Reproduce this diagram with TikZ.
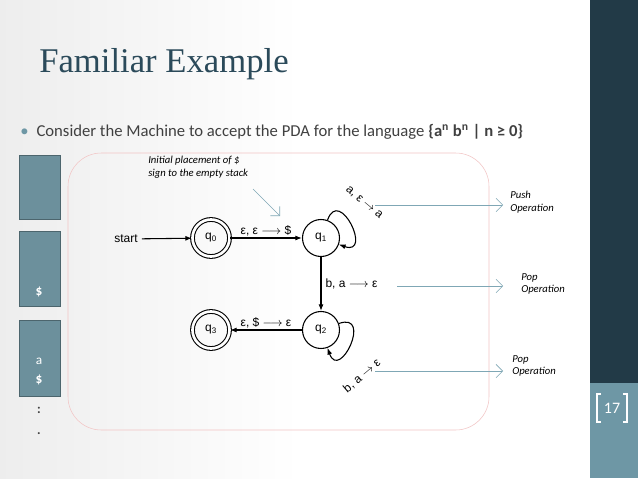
\documentclass[tikz,border=0pt]{standalone}
\usepackage{fontspec}
\setmainfont{Carlito}
\newfontfamily\titlefont{Liberation Serif}
\newfontfamily\statefont{Liberation Sans}
\usetikzlibrary{arrows.meta}
\definecolor{side}{HTML}{223A47}
\definecolor{sidelight}{HTML}{6E97A5}
\definecolor{stackc}{HTML}{6C909C}
\definecolor{titlec}{HTML}{2B4A5A}
\definecolor{textc}{HTML}{404040}
\definecolor{annc}{HTML}{7FA7B5}
\definecolor{boxc}{HTML}{F2C4C4}
\newcommand{\arr}{\ensuremath{\longrightarrow}}
\newcommand{\sarr}{\ensuremath{\rightarrow}}
\tikzset{
  st/.style={circle,draw,thick,minimum size=37pt*0.75,inner sep=0pt,font=\statefont\small},
  acc/.style={st,double,double distance=2pt},
  tr/.style={-{Latex[length=5pt]},thick},
  lab/.style={font=\statefont\small,inner sep=1pt},
  ann/.style={annc,-{Straight Barb[length=5pt]}},
  anntext/.style={font=\itshape\footnotesize,align=left,anchor=north west,inner sep=0pt},
  stk/.style={fill=stackc,draw=stackc!70!black},
}
\begin{document}
\begin{tikzpicture}[x=0.75pt,y=-0.75pt]
\useasboundingbox (0,0) rectangle (638,478);
\shade[left color=black!7,right color=white] (0,0) rectangle (300,478);
\fill[white] (300,0) rectangle (590,478);
\fill[side] (590,0) rectangle (638,383);
\fill[sidelight] (590,383) rectangle (638,478);
\node[white,font=\large] (pg) at (612,408) {17};
\draw[white,thick] (601,394) -- (597,394) -- (597,422) -- (601,422);
\draw[white,thick] (623,394) -- (627,394) -- (627,422) -- (623,422);
\node[titlec,font=\titlefont\fontsize{26}{31}\selectfont,anchor=base west,inner sep=0pt] (title) at (39,73) {Familiar Example};
\node[textc,anchor=base west,inner sep=0pt,font=\fontsize{12.5}{15}\selectfont] (bul) at (20,136)
  {{\color{sidelight}\textbullet}\hspace{6pt}Consider the Machine to accept the PDA for the language \textbf{\{a\textsuperscript{n} b\textsuperscript{n} | n ≥ 0\}}};
\draw[boxc] (68,153) [rounded corners=25pt] rectangle (489,430);
\draw[stk] (19,155) rectangle (60,219);
\draw[stk] (19,231) rectangle (60,306);
\draw[stk] (19,320) rectangle (60,396);
\node[white,font=\bfseries] (s1) at (39,292) {\$};
\node[white] (s2) at (39,361) {a};
\node[white,font=\bfseries] (s3) at (39,380) {\$};
\node[textc,font=\bfseries] (d1) at (39,410) {:};
\node[textc,font=\bfseries] (d2) at (39,434) {.};
\node[acc] (q0) at (211,238) {q\textsubscript{0}};
\node[st] (q1) at (321,238) {q\textsubscript{1}};
\node[st] (q2) at (321,330) {q\textsubscript{2}};
\node[acc] (q3) at (211,330) {q\textsubscript{3}};
\node[lab,inner sep=3pt] (start) at (126,239) {start};
\draw[tr] (start) -- (q0);
\draw[tr] (q0) -- node[lab,above] {ε, ε \arr\ \$} (q1);
\draw[tr] (q1) -- node[lab,right,xshift=2pt] (ba) {b, a \arr\ ε} (q2);
\draw[tr] (q2) -- node[lab,above] {ε, \$ \arr\ ε} (q3);
\draw[tr] (q1.70) .. controls +(12,-34) and +(34,12) .. (q1.-20);
\draw[tr] (q2.20) .. controls +(34,-12) and +(12,34) .. (q2.-70);
\node[lab,rotate=-40] (l1) at (364,203) {a, ε \sarr\ a};
\node[lab,rotate=40] (l2) at (362,376) {b, a \sarr\ ε};
\node[anntext] (ia) at (148,156) {Initial placement of \$\\sign to the empty stack};
\coordinate (ia1) at (253,189);
\coordinate (ia2) at (280,216);
\draw[ann] (ia1) -- (ia2);
\node[anntext] (push) at (510,191) {Push\\Operation};
\node[anntext] (pop1) at (521,273) {Pop\\Operation};
\node[anntext] (pop2) at (512,355) {Pop\\Operation};
\coordinate (a1) at (375,205);
\coordinate (a2) at (397,286);
\coordinate (a3) at (375,371);
\draw[ann] (a1) -- (503,205);
\draw[ann] (a2) -- (503,286);
\draw[ann] (a3) -- (503,371);
\end{tikzpicture}
\end{document}
